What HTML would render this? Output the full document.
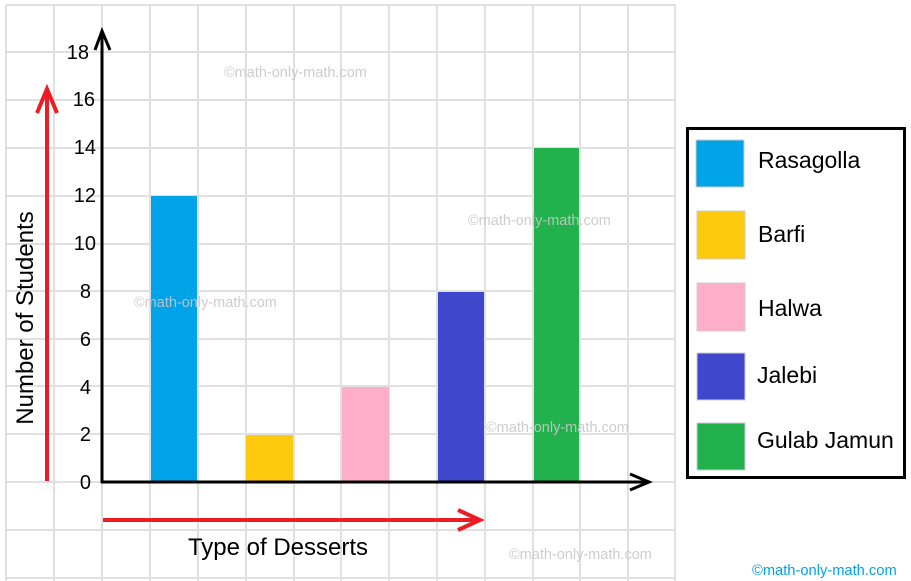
<!DOCTYPE html>
<html><head><meta charset="utf-8"><style>
html,body{margin:0;padding:0;background:#fff;}
svg{display:block;font-family:"Liberation Sans",sans-serif;}
</style></head><body>
<svg width="911" height="581" viewBox="0 0 911 581" xmlns="http://www.w3.org/2000/svg">
<rect width="911" height="581" fill="#fff"/>
<g stroke="#e0e0e0" stroke-width="2">
<line x1="6" y1="5" x2="676" y2="5"/>
<line x1="6" y1="52" x2="676" y2="52"/>
<line x1="6" y1="100" x2="676" y2="100"/>
<line x1="6" y1="148" x2="676" y2="148"/>
<line x1="6" y1="196" x2="676" y2="196"/>
<line x1="6" y1="244" x2="676" y2="244"/>
<line x1="6" y1="291" x2="676" y2="291"/>
<line x1="6" y1="339" x2="676" y2="339"/>
<line x1="6" y1="386" x2="676" y2="386"/>
<line x1="6" y1="434" x2="676" y2="434"/>
<line x1="6" y1="482" x2="676" y2="482"/>
<line x1="6" y1="530" x2="676" y2="530"/>
<line x1="6" y1="578" x2="676" y2="578"/>
<line x1="6" y1="5" x2="6" y2="581"/>
<line x1="54" y1="5" x2="54" y2="581"/>
<line x1="102" y1="5" x2="102" y2="581"/>
<line x1="150" y1="5" x2="150" y2="581"/>
<line x1="198" y1="5" x2="198" y2="581"/>
<line x1="246" y1="5" x2="246" y2="581"/>
<line x1="294" y1="5" x2="294" y2="581"/>
<line x1="341" y1="5" x2="341" y2="581"/>
<line x1="389" y1="5" x2="389" y2="581"/>
<line x1="437" y1="5" x2="437" y2="581"/>
<line x1="485" y1="5" x2="485" y2="581"/>
<line x1="533" y1="5" x2="533" y2="581"/>
<line x1="580" y1="5" x2="580" y2="581"/>
<line x1="628" y1="5" x2="628" y2="581"/>
<line x1="675" y1="5" x2="675" y2="581"/>
</g>
<rect x="151" y="196" width="46" height="286" fill="#00a2e8"/>
<rect x="246" y="435" width="47" height="47" fill="#ffc90e"/>
<rect x="342" y="387" width="47" height="95" fill="#ffaec9"/>
<rect x="438" y="292" width="46" height="190" fill="#3f48cc"/>
<rect x="534" y="148" width="45" height="334" fill="#22b14c"/>
<g fill="#c8c8c8" font-size="14.5" opacity="0.9">
<text x="224" y="77">©math-only-math.com</text>
<text x="468" y="225">©math-only-math.com</text>
<text x="134" y="307">©math-only-math.com</text>
<text x="486" y="432">©math-only-math.com</text>
<text x="509" y="559">©math-only-math.com</text>
</g>
<g stroke="#000" stroke-width="3" fill="none">
<line x1="102" y1="32" x2="102" y2="483"/>
<polyline points="95,50 102,31 110,50"/>
<line x1="101" y1="482" x2="648" y2="482"/>
<polyline points="630,474 649,482 630,490"/>
</g>
<g stroke="#ed1c24" stroke-width="4" fill="none">
<line x1="47" y1="481" x2="47" y2="92"/>
<polyline points="37,113 47,89 57,113"/>
<line x1="103" y1="520" x2="478" y2="520"/>
<polyline points="458,510 480,520 458,530"/>
</g>
<g font-size="20" text-anchor="end" fill="#000">
<text x="89" y="59">18</text>
<text x="95" y="106">16</text>
<text x="96" y="154">14</text>
<text x="96" y="202">12</text>
<text x="96" y="250">10</text>
<text x="91" y="298">8</text>
<text x="91" y="346">6</text>
<text x="91" y="394">4</text>
<text x="91" y="441">2</text>
<text x="91" y="489">0</text>
</g>
<text x="0" y="0" font-size="24" text-anchor="middle" transform="translate(33,318) rotate(-90)">Number of Students</text>
<text x="278" y="555" font-size="24" text-anchor="middle">Type of Desserts</text>
<rect x="687.5" y="128.5" width="217" height="349" fill="#fff" stroke="#000" stroke-width="3"/>
<g stroke="#ccc" stroke-width="1">
<rect x="696" y="140" width="48" height="47" fill="#00a2e8"/>
<rect x="697" y="211" width="48" height="48" fill="#ffc90e"/>
<rect x="697" y="283" width="48" height="48" fill="#ffaec9"/>
<rect x="697" y="353" width="48" height="47" fill="#3f48cc"/>
<rect x="697" y="423" width="48" height="47" fill="#22b14c"/>
</g>
<g font-size="23" fill="#000">
<text x="758" y="168">Rasagolla</text>
<text x="758" y="242">Barfi</text>
<text x="758" y="316">Halwa</text>
<text x="757" y="383">Jalebi</text>
<text x="757" y="448">Gulab Jamun</text>
</g>
<text x="752" y="575" font-size="14.7" fill="#00a2e8">©math-only-math.com</text>
</svg>
</body></html>
